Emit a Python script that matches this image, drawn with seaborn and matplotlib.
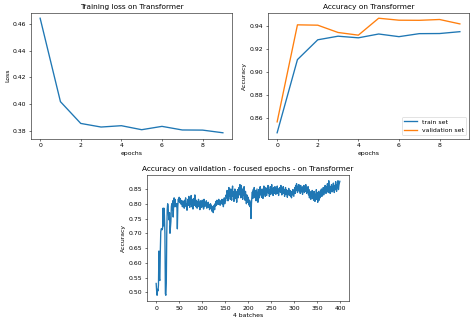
import numpy as np
import pandas as pd
import matplotlib
matplotlib.use("Agg")
import matplotlib.pyplot as plt
import seaborn as sns

# ---- data ----
epochs = list(range(10))
train_loss = [0.4643, 0.4018, 0.3855, 0.3828, 0.3838, 0.3808, 0.3833, 0.3806, 0.3805, 0.3785]
train_acc = [0.8475, 0.9106, 0.9277, 0.9308, 0.9294, 0.9327, 0.9304, 0.9330, 0.9331, 0.9347]
val_acc = [0.8569, 0.9406, 0.9403, 0.9340, 0.9317, 0.9463, 0.9446, 0.9445, 0.9452, 0.9414]

val_batches_a = [
    0.530, 0.505, 0.490, 0.510, 0.505, 0.525, 0.640, 0.545, 0.540, 0.640,
    0.705, 0.715, 0.715, 0.712, 0.718, 0.785, 0.725, 0.785, 0.760, 0.700,
    0.495, 0.490, 0.530, 0.700, 0.780, 0.800, 0.790, 0.760, 0.745, 0.770,
    0.700, 0.720, 0.740, 0.790, 0.800, 0.780, 0.810, 0.755, 0.800, 0.820,
    0.790, 0.815, 0.800, 0.790, 0.800, 0.800, 0.715, 0.790, 0.815, 0.810,
    0.822, 0.805, 0.818, 0.800, 0.812, 0.798, 0.805, 0.790, 0.810, 0.800,
    0.805, 0.785, 0.812, 0.795, 0.820, 0.790, 0.800, 0.778, 0.808, 0.815,
    0.795, 0.825, 0.800, 0.788, 0.812, 0.798, 0.828, 0.790, 0.805, 0.815,
    0.782, 0.800, 0.818, 0.795, 0.830, 0.805, 0.790, 0.812, 0.800, 0.785,
    0.808, 0.795, 0.815, 0.790, 0.802, 0.780, 0.810, 0.798, 0.805, 0.788,
]
val_batches_b = [
    0.812, 0.795, 0.800, 0.782, 0.815, 0.790, 0.805, 0.798, 0.792, 0.810,
    0.785, 0.800, 0.795, 0.805, 0.788, 0.798, 0.780, 0.792, 0.800, 0.785,
    0.795, 0.775, 0.790, 0.782, 0.770, 0.788, 0.795, 0.780, 0.800, 0.792,
    0.808, 0.795, 0.812, 0.800, 0.805, 0.798, 0.815, 0.802, 0.808, 0.795,
    0.810, 0.800, 0.805, 0.815, 0.798, 0.812, 0.790, 0.808, 0.820, 0.800,
    0.815, 0.810, 0.830, 0.820, 0.845, 0.835, 0.810, 0.840, 0.855, 0.825,
    0.838, 0.815, 0.850, 0.830, 0.812, 0.845, 0.860, 0.825, 0.840, 0.808,
    0.835, 0.850, 0.818, 0.842, 0.825, 0.805, 0.832, 0.848, 0.820, 0.838,
    0.855, 0.830, 0.865, 0.840, 0.820, 0.862, 0.835, 0.850, 0.815, 0.845,
    0.828, 0.858, 0.835, 0.812, 0.842, 0.825, 0.800, 0.830, 0.818, 0.805,
]
val_batches_c = [
    0.822, 0.810, 0.795, 0.812, 0.790, 0.805, 0.750, 0.800, 0.825, 0.840,
    0.818, 0.848, 0.830, 0.855, 0.838, 0.820, 0.845, 0.810, 0.832, 0.850,
    0.825, 0.805, 0.835, 0.848, 0.820, 0.842, 0.858, 0.830, 0.845, 0.822,
    0.850, 0.835, 0.818, 0.845, 0.860, 0.832, 0.848, 0.825, 0.855, 0.840,
    0.828, 0.852, 0.838, 0.862, 0.835, 0.848, 0.825, 0.842, 0.858, 0.832,
    0.845, 0.865, 0.838, 0.850, 0.828, 0.855, 0.842, 0.835, 0.858, 0.845,
    0.832, 0.850, 0.840, 0.860, 0.835, 0.848, 0.828, 0.852, 0.842, 0.855,
    0.838, 0.862, 0.845, 0.830, 0.850, 0.840, 0.858, 0.835, 0.848, 0.825,
    0.842, 0.855, 0.832, 0.848, 0.838, 0.822, 0.845, 0.830, 0.852, 0.840,
    0.828, 0.845, 0.825, 0.838, 0.820, 0.842, 0.830, 0.848, 0.835, 0.825,
]
val_batches_d = [
    0.840, 0.855, 0.835, 0.862, 0.845, 0.868, 0.850, 0.838, 0.860, 0.845,
    0.865, 0.842, 0.858, 0.835, 0.862, 0.848, 0.840, 0.855, 0.832, 0.858,
    0.845, 0.862, 0.838, 0.855, 0.842, 0.865, 0.848, 0.835, 0.852, 0.840,
    0.858, 0.830, 0.848, 0.820, 0.842, 0.828, 0.815, 0.838, 0.825, 0.845,
    0.818, 0.835, 0.812, 0.842, 0.825, 0.808, 0.832, 0.820, 0.848, 0.815,
    0.838, 0.805, 0.828, 0.842, 0.812, 0.835, 0.820, 0.845, 0.830, 0.850,
    0.825, 0.842, 0.835, 0.855, 0.830, 0.848, 0.838, 0.862, 0.845, 0.835,
    0.858, 0.842, 0.868, 0.850, 0.838, 0.878, 0.845, 0.860, 0.835, 0.852,
    0.848, 0.865, 0.840, 0.858, 0.845, 0.870, 0.852, 0.838, 0.862, 0.848,
    0.875, 0.850, 0.842, 0.865, 0.855, 0.878, 0.848, 0.862, 0.870, 0.876,
]
val_batches = val_batches_a + val_batches_b + val_batches_c + val_batches_d
batch_idx = list(range(len(val_batches)))

DPI = 48
plt.rcParams["font.size"] = 9.2
plt.rcParams["axes.titlesize"] = 11
fig = plt.figure(figsize=(474 / DPI, 323 / DPI), dpi=DPI)

ax1 = fig.add_axes([0.0654, 0.5712, 0.4241, 0.3901])
sns.lineplot(x=epochs, y=train_loss, ax=ax1, color="#1f77b4", linewidth=2.0)
ax1.set_title("Training loss on Transformer")
ax1.set_xlabel("epochs")
ax1.set_ylabel("Loss")

ax2 = fig.add_axes([0.5654, 0.5712, 0.4241, 0.3901])
sns.lineplot(x=epochs, y=train_acc, ax=ax2, color="#1f77b4", label="train set", linewidth=2.0)
sns.lineplot(x=epochs, y=val_acc, ax=ax2, color="#ff7f0e", label="validation set", linewidth=2.0)
ax2.set_title("Accuracy on Transformer")
ax2.set_xlabel("epochs")
ax2.set_ylabel("Accuracy")
ax2.legend(loc="lower right")

ax3 = fig.add_axes([0.3101, 0.0681, 0.4262, 0.3901])
sns.lineplot(x=batch_idx, y=val_batches, ax=ax3, color="#1f77b4", linewidth=2.0)
ax3.set_title("Accuracy on validation - focused epochs - on Transformer")
ax3.set_xlabel("4 batches")
ax3.set_ylabel("Accuracy")

fig.savefig("out.png", dpi=DPI)
